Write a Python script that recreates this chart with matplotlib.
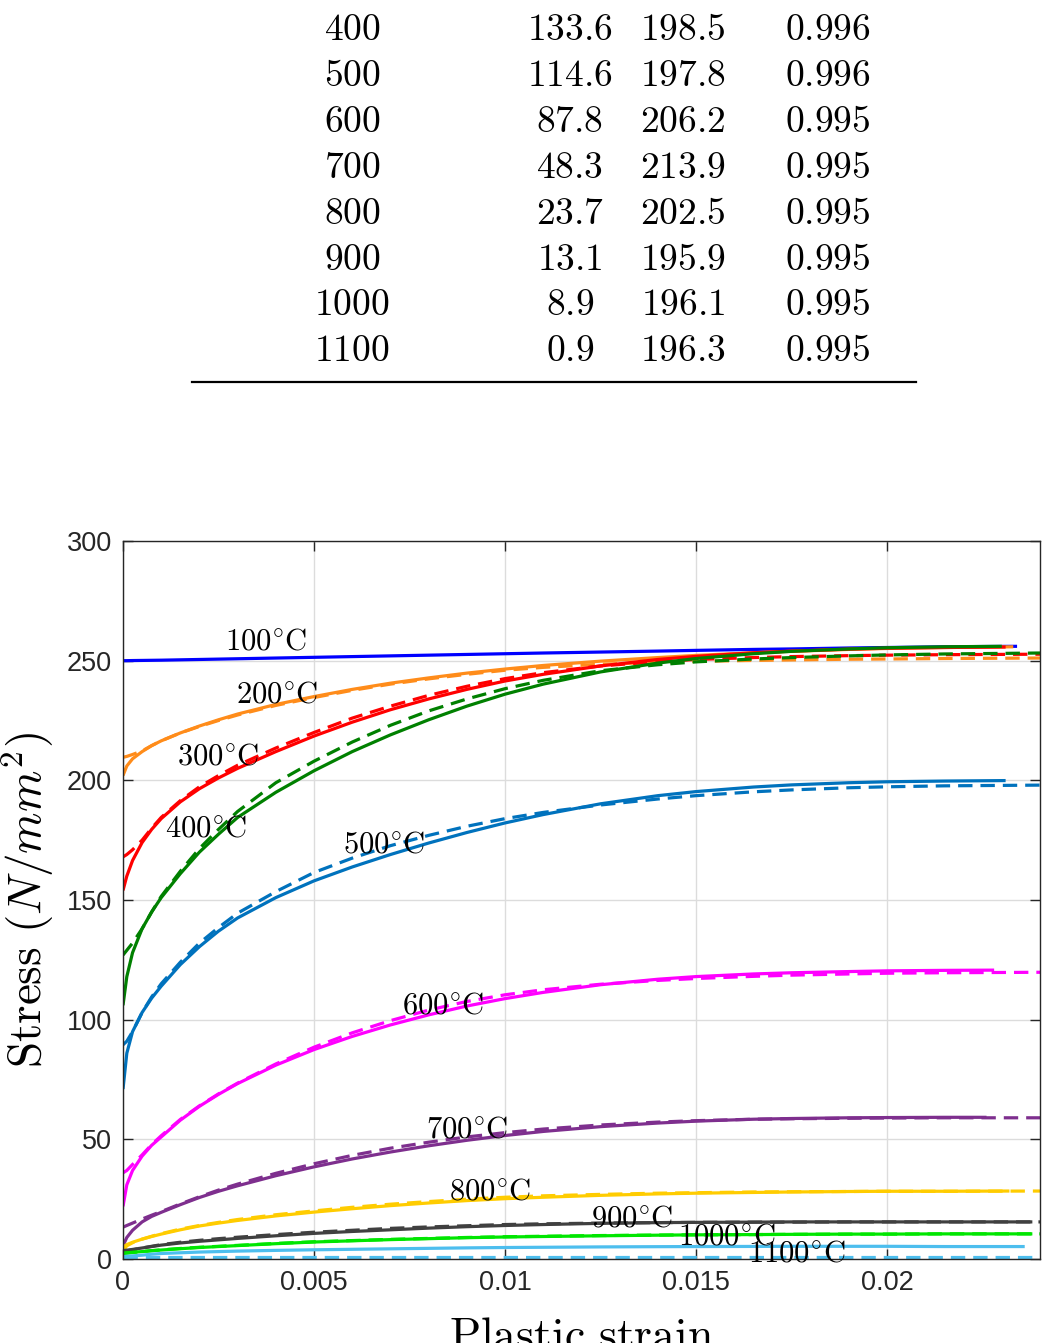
import numpy as np
import matplotlib
matplotlib.use("Agg")
import matplotlib.pyplot as plt

plt.rcParams['mathtext.fontset'] = 'cm'
plt.rcParams['font.family'] = ['Liberation Sans', 'DejaVu Sans']

# -------------------------------------------------------------------
# Table fragment (top of the page)
# -------------------------------------------------------------------
tab_temp = ['400', '500', '600', '700', '800', '900', '1000', '1100']
tab_k = ['133.6', '114.6', '87.8', '48.3', '23.7', '13.1', '8.9', '0.9']
tab_n = ['198.5', '197.8', '206.2', '213.9', '202.5', '195.9', '196.1', '196.3']
tab_r2 = ['0.996', '0.996', '0.995', '0.995', '0.995', '0.995', '0.995', '0.995']

# -------------------------------------------------------------------
# Curves
# -------------------------------------------------------------------
temps = [100, 200, 300, 400, 500, 600, 700, 800, 900, 1000, 1100]
colors = ['#0000FF', '#FF8C1A', '#FF0000', '#008000', '#0072BD', '#FF00FF',
          '#7E2F8E', '#FFCC00', '#404040', '#00E600', '#4DBEEE']

# common strain grid (last point is each curve's own end strain)
eps_grid = [0, 0.0001, 0.00025, 0.0005, 0.00075, 0.001, 0.0015, 0.002, 0.0025, 0.003,
            0.004, 0.005, 0.006, 0.007, 0.008, 0.009, 0.01, 0.011, 0.0125, 0.014,
            0.015, 0.0165, 0.0175, 0.019, 0.02, 0.0215]
exp_end = [0.0234, 0.0233, 0.0231, 0.0230, 0.0231, 0.0228, 0.0226, 0.0232,
           0.0238, 0.0238, 0.0236]
fit_end = 0.024

# experimental curves (solid)
exp_100 = [250, 250, 250.05, 250.1, 250.15, 250.2, 250.35, 250.5, 250.65, 250.8, 251.1, 251.4, 251.7,
           252, 252.3, 252.6, 252.9, 253.2, 253.6, 254, 254.3, 254.7, 254.9, 255.3, 255.5, 255.8, 256]
exp_200 = [202, 206, 209, 212, 214.5, 216.5, 219.8, 222.7, 225.3, 227.7, 231.7, 235, 238,
           240.6, 242.8, 244.8, 246.5, 248, 249.8, 251.3, 252.2, 253.3, 253.9, 254.7, 255.1, 255.5, 255.8]
exp_300 = [154, 160, 166.5, 174, 179.5, 184, 191, 196.5, 201, 205, 212, 218.5, 224.3,
           229.5, 234, 238, 241.5, 244.3, 247.8, 250.5, 251.8, 253.3, 254, 254.8, 255.2, 255.5, 255.7]
exp_400 = [106, 118, 128, 138, 145, 151, 161, 170, 177.5, 184.5, 195, 204, 212,
           219, 225.3, 231, 236, 240.2, 245.3, 249, 250.9, 252.9, 253.9, 254.9, 255.4, 255.8, 256]
exp_500 = [71, 86, 95, 103, 109, 114, 123, 130.5, 137, 142.5, 151, 158, 163.8,
           169, 173.8, 178.2, 182.2, 185.7, 190.2, 193.6, 195.3, 197.2, 198.1, 199, 199.4, 199.7, 199.9]
exp_600 = [22, 31, 37, 43, 47.5, 51, 58, 63.8, 68.8, 73.3, 81, 87.5, 93,
           97.8, 102, 105.7, 108.8, 111.4, 114.6, 116.9, 118, 119.1, 119.6, 120.1, 120.4, 120.6, 120.7]
exp_700 = [5.5, 9, 12, 15.5, 17.8, 19.5, 22.7, 25.7, 28.3, 30.6, 34.8, 38.5, 41.8,
           44.7, 47.3, 49.6, 51.6, 53.3, 55.3, 56.8, 57.6, 58.4, 58.7, 59, 59.1, 59.2, 59.2]
exp_800 = [5, 6, 7, 8.3, 9.4, 10.4, 12.2, 13.8, 15, 16.1, 18, 19.6, 21,
           22.3, 23.4, 24.4, 25.2, 25.8, 26.6, 27.2, 27.5, 27.8, 28, 28.2, 28.3, 28.3, 28.4]
exp_900 = [3.5, 3.7, 4, 4.6, 5.2, 5.8, 6.7, 7.4, 8, 8.6, 9.7, 10.7, 11.5,
           12.2, 12.9, 13.5, 14, 14.4, 14.9, 15.2, 15.3, 15.4, 15.5, 15.5, 15.5, 15.5, 15.5]
exp_1000 = [2.5, 2.6, 2.8, 3.1, 3.45, 3.75, 4.3, 4.8, 5.2, 5.6, 6.4, 7.1, 7.6,
            8.1, 8.5, 8.9, 9.2, 9.4, 9.7, 9.95, 10.1, 10.2, 10.3, 10.4, 10.4, 10.5, 10.5]
exp_1100 = [1, 1.1, 1.3, 1.6, 2, 2.3, 2.6, 2.9, 3.1, 3.3, 3.6, 3.85, 4.05,
            4.25, 4.45, 4.65, 4.8, 4.9, 5.05, 5.15, 5.2, 5.25, 5.3, 5.3, 5.3, 5.2, 5.2]

# fitted curves (dashed)
fit_200 = [209.6, 210, 210.8, 212.3, 214.5, 216.5, 219.8, 222.5, 225, 227.3, 231.3, 234.6, 237.6,
           240.2, 242.4, 244.3, 246, 247.2, 248.5, 249.3, 249.7, 250.1, 250.3, 250.6, 250.7, 250.9, 251.1]
fit_300 = [168, 169, 171, 175, 180, 184.5, 191.5, 197.3, 202, 206.3, 213.5, 220, 226,
           231, 235.5, 239.3, 242.5, 245, 247.8, 249.6, 250.5, 251.3, 251.7, 252.1, 252.3, 252.5, 252.7]
fit_400 = [127, 129, 132, 138, 145, 151.5, 162, 171.5, 179.5, 187, 199, 208, 216,
           223, 229, 234, 238.3, 241.8, 245.8, 248.3, 249.5, 250.7, 251.3, 252, 252.4, 252.8, 253.2]
fit_500 = [89.5, 91, 95, 103, 109.5, 115, 124, 132, 138.5, 144.5, 153.5, 161.5, 167.5,
           172.7, 177, 180.8, 184, 186.6, 189.7, 192.2, 193.6, 195.2, 196, 196.9, 197.3, 197.7, 198]
fit_600 = [36, 37, 39.5, 43.5, 47.8, 51.5, 58.3, 64, 69, 73.5, 81.5, 88.5, 94.5,
           99.6, 104, 107.6, 110.4, 112.5, 114.8, 116.4, 117.2, 118.1, 118.6, 119.1, 119.4, 119.6, 119.8]
fit_700 = [13.3, 14, 15, 16.7, 18.3, 19.8, 23, 26, 28.8, 31.3, 35.8, 39.8, 43.3,
           46.3, 48.8, 51, 52.8, 54.3, 56, 57.2, 57.8, 58.4, 58.6, 58.8, 58.9, 59, 59]
fit_800 = [3.5, 5.5, 6.8, 8.3, 9.5, 10.6, 12.5, 14, 15.3, 16.5, 18.5, 20.1, 21.6,
           22.9, 24, 25, 25.8, 26.4, 27, 27.5, 27.7, 28, 28.1, 28.2, 28.3, 28.3, 28.4]
fit_900 = [3, 3.3, 3.8, 4.6, 5.3, 6, 7, 7.8, 8.5, 9.1, 10.2, 11.2, 12,
           12.8, 13.4, 13.9, 14.4, 14.7, 15, 15.2, 15.3, 15.4, 15.4, 15.5, 15.5, 15.5, 15.5]
fit_1000 = [2.3, 2.45, 2.7, 3.1, 3.5, 3.8, 4.4, 4.9, 5.3, 5.7, 6.5, 7.2, 7.7,
            8.2, 8.6, 9, 9.3, 9.5, 9.8, 10, 10.1, 10.2, 10.3, 10.4, 10.4, 10.5, 10.5]
fit_1100 = [0.9, 0.9, 0.9, 0.9, 0.9, 0.9, 0.9, 0.9, 0.9, 0.9, 0.9, 0.9, 0.9,
            0.9, 0.9, 0.9, 0.9, 0.9, 0.9, 0.9, 0.9, 0.9, 0.9, 0.9, 0.9, 0.9, 0.9]

exp_curves = [exp_100, exp_200, exp_300, exp_400, exp_500, exp_600,
              exp_700, exp_800, exp_900, exp_1000, exp_1100]
fit_curves = [None, fit_200, fit_300, fit_400, fit_500, fit_600,
              fit_700, fit_800, fit_900, fit_1000, fit_1100]

# label anchor points (strain, stress)
label_x = [0.00374, 0.00403, 0.00249, 0.00217, 0.00683, 0.00838, 0.0090,
           0.0096, 0.01333, 0.0158, 0.01764]
label_y = [257.8, 235.7, 209.8, 180, 173, 106, 53.9, 28, 17.1, 9.2, 2.5]

# -------------------------------------------------------------------
# Figure
# -------------------------------------------------------------------
fig = plt.figure(figsize=(10.6, 13.43), dpi=100)

# table rows
row_y = [1 - (30 + 45.9 * i) / 1343 for i in range(len(tab_temp))]
for i in range(len(tab_temp)):
    y = row_y[i]
    fig.text(352 / 1060, y, r'$\mathrm{%s}$' % tab_temp[i], ha='center', va='center', fontsize=27)
    fig.text(570 / 1060, y, r'$\mathrm{%s}$' % tab_k[i], ha='center', va='center', fontsize=27)
    fig.text(683 / 1060, y, r'$\mathrm{%s}$' % tab_n[i], ha='center', va='center', fontsize=27)
    fig.text(828 / 1060, y, r'$\mathrm{%s}$' % tab_r2[i], ha='center', va='center', fontsize=27)
fig.add_artist(plt.Line2D([192 / 1060, 916 / 1060], [1 - 382 / 1343] * 2,
                          color='black', lw=1.6, transform=fig.transFigure))

ax = fig.add_axes([123 / 1060, 1 - 1259 / 1343, (1040 - 123) / 1060, (1259 - 541) / 1343])

for i, t in enumerate(temps):
    eps_e = eps_grid + [exp_end[i]]
    ax.plot(eps_e, exp_curves[i], color=colors[i], lw=2.3, solid_capstyle='butt')
    if fit_curves[i] is not None:
        eps_f = eps_grid + [fit_end]
        ax.plot(eps_f, fit_curves[i], color=colors[i], lw=2.3, ls='--', dashes=(4.5, 2.5))

for i, t in enumerate(temps):
    ax.text(label_x[i], label_y[i], r'$\mathrm{%d^{\circ}C}$' % t, ha='center', va='center',
            fontsize=22, color='black')

ax.set_xlim(0, 0.024)
ax.set_ylim(0, 300)
ax.set_xticks([0, 0.005, 0.01, 0.015, 0.02])
ax.set_xticklabels(['0', '0.005', '0.01', '0.015', '0.02'])
ax.set_yticks([0, 50, 100, 150, 200, 250, 300])
ax.grid(True, color='#dcdcdc', lw=1)
ax.set_axisbelow(True)
ax.tick_params(direction='in', length=7, width=1, top=True, right=True,
               labelsize=19.5, colors='#262626', pad=8)
for s in ax.spines.values():
    s.set_color('#262626')
    s.set_linewidth(1)

ax.set_ylabel(r'$\mathrm{Stress}\ (N/mm^2)$', fontsize=34, labelpad=8)
ax.set_xlabel(r'$\mathrm{Plastic\ strain}$', fontsize=33, labelpad=14)

plt.savefig('out.png', dpi=100)
